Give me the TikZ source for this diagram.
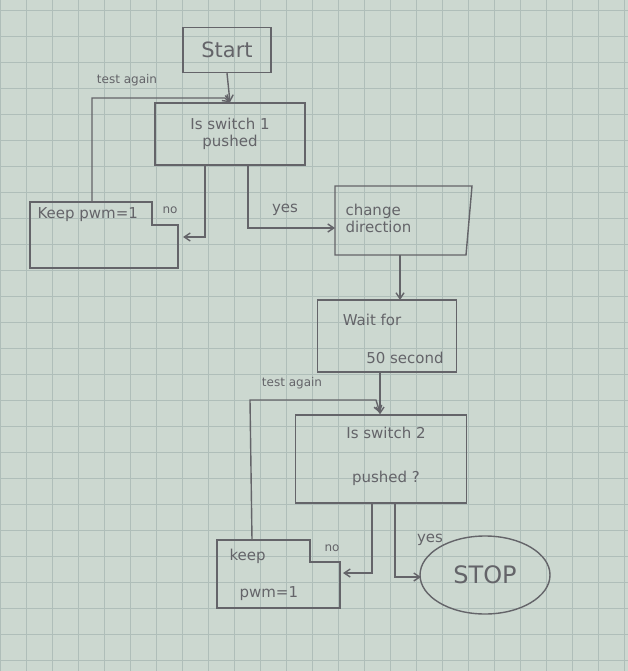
\documentclass[tikz,border=0pt]{standalone}
\usepackage{fontspec}
\setmainfont{DejaVu Sans}
\usetikzlibrary{arrows.meta,shapes.geometric}
\definecolor{paper}{RGB}{204,216,208}
\definecolor{gridc}{RGB}{175,190,185}
\definecolor{pencil}{RGB}{100,100,105}
\begin{document}
\begin{tikzpicture}[x=1pt,y=-1pt,
  pen/.style={draw=pencil,line width=1.4pt},
  arr/.style={pen,-{Straight Barb[length=6pt,width=8pt]}},
  lbl/.style={text=pencil,font=\fontsize{15}{17}\selectfont,align=center},
  sml/.style={text=pencil,font=\fontsize{12}{13}\selectfont}]
\fill[paper] (0,0) rectangle (628,671);
\useasboundingbox (0,0) rectangle (628,671);
\foreach \i in {0,26,...,650} {\draw[gridc,line width=0.8pt] (\i,0) -- (\i,671);}
\foreach \j in {10,36,...,671} {\draw[gridc,line width=0.8pt] (0,\j) -- (628,\j);}
% Start
\node[pen,minimum width=88,minimum height=45,lbl,font=\fontsize{21}{23}\selectfont] (start) at (227,50) {Start};
\node[pen,minimum width=150,minimum height=62,lbl] (s1) at (230,134) {Is switch 1\\pushed};
\draw[pen] (30,202) -- (152,202) -- (152,225) -- (178,225) -- (178,268) -- (30,268) -- cycle;
\node[lbl,anchor=west] (k1) at (34,215) {Keep pwm=1};
\coordinate (k1top) at (92,202);
\node[sml] (no1) at (170,210) {no};
\draw[pen] (335,186) -- (472,186) -- (466,255) -- (335,255) -- cycle;
\node[lbl,anchor=west,align=left] (cd) at (342,218) {change\\direction};
\node[pen,minimum width=139,minimum height=72] (w) at (387,336) {};
\node[lbl] at (372,320) {Wait for};
\node[lbl] at (405,358) {50 second};
\node[pen,minimum width=171,minimum height=88] (s2) at (381,459) {};
\node[lbl] at (386,433) {Is switch 2};
\node[lbl] at (386,478) {pushed ?};
\draw[pen] (217,540) -- (310,540) -- (310,562) -- (340,562) -- (340,608) -- (217,608) -- cycle;
\node[lbl,anchor=west] (k2) at (226,556) {keep};
\node[lbl,anchor=west] at (236,594) {pwm=1};
\coordinate (k2top) at (252,540);
\node[sml] (no2) at (332,548) {no};
\node[pen,ellipse,minimum width=130,minimum height=78,lbl,font=\fontsize{24}{26}\selectfont] (stop) at (485,575) {STOP};
% connectors
\draw[arr] (start.south) -- (s1.north);
\draw[arr] (k1top) -- (92,98) -- (225,98) -- (s1.north);
\node[sml] at (127,80) {test again};
\draw[arr] (205,165) -- (205,237) -- (183,237);
\draw[arr] (248,165) -- (248,228) -- (335,228);
\node[lbl] at (285,210) {yes};
\draw[arr] (400,255) -- (400,300);
\draw[arr] (380,372) -- (s2.north -| 380,415);
\draw[arr] (k2top) -- (250,400) -- (376,400) -- (380,413);
\node[sml] at (292,383) {test again};
\draw[arr] (372,503) -- (372,573) -- (343,573);
\draw[arr] (395,503) -- (395,577) -- (421,577);
\node[lbl] at (430,540) {yes};
\end{tikzpicture}
\end{document}
